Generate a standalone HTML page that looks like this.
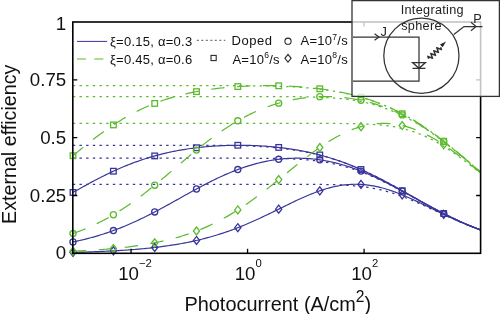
<!DOCTYPE html>
<html lang="en">
<head>
<meta charset="utf-8">
<title>External efficiency vs photocurrent</title>
<style>
html,body{margin:0;padding:0;background:#fff;}
body{width:500px;height:314px;overflow:hidden;font-family:"Liberation Sans",sans-serif;}
svg{display:block;}
text{font-family:"Liberation Sans",sans-serif;fill:#111;}
.tick text{font-size:18.7px;}
.lab{font-size:19.7px;}
.leg text{font-size:13px;letter-spacing:0.25px;}
.inset text{font-size:12.7px;fill:#222;letter-spacing:0.3px;}
</style>
</head>
<body>
<svg width="500" height="314" viewBox="0 0 500 314">
<rect x="0" y="0" width="500" height="314" fill="#fff"/>
<!-- curves -->
<g clip-path="url(#plotclip)">
<clipPath id="plotclip"><rect x="68.8" y="22.0" width="412.8" height="236.3"/></clipPath>
<path d="M72.80,145.28 L74.51,145.28 L76.21,145.28 L77.92,145.28 L79.63,145.28 L81.33,145.28 L83.04,145.28 L84.74,145.28 L86.45,145.28 L88.16,145.28 L89.86,145.28 L91.57,145.28 L93.28,145.28 L94.98,145.28 L96.69,145.28 L98.39,145.28 L100.10,145.28 L101.81,145.28 L103.51,145.28 L105.22,145.28 L106.93,145.28 L108.63,145.28 L110.34,145.28 L112.04,145.28 L113.75,145.28 L115.46,145.28 L117.16,145.28 L118.87,145.28 L120.58,145.28 L122.28,145.28 L123.99,145.28 L125.69,145.28 L127.40,145.28 L129.11,145.28 L130.81,145.28 L132.52,145.28 L134.23,145.28 L135.93,145.28 L137.64,145.28 L139.34,145.28 L141.05,145.28 L142.76,145.28 L144.46,145.28 L146.17,145.28 L147.88,145.28 L149.58,145.28 L151.29,145.28 L152.99,145.28 L154.70,145.28 L156.41,145.28 L158.11,145.28 L159.82,145.28 L161.53,145.28 L163.23,145.28 L164.94,145.28 L166.65,145.28 L168.35,145.28 L170.06,145.28 L171.76,145.28 L173.47,145.28 L175.18,145.28 L176.88,145.28 L178.59,145.28 L180.30,145.28 L182.00,145.28 L183.71,145.29 L185.41,145.29 L187.12,145.29 L188.83,145.29 L190.53,145.29 L192.24,145.29 L193.95,145.30 L195.65,145.30 L197.36,145.30 L199.06,145.31 L200.77,145.31 L202.48,145.31 L204.18,145.32 L205.89,145.32 L207.60,145.33 L209.30,145.34 L211.01,145.35 L212.71,145.35 L214.42,145.36 L216.13,145.37 L217.83,145.39 L219.54,145.40 L221.25,145.41 L222.95,145.43 L224.66,145.45 L226.36,145.47 L228.07,145.49 L229.78,145.51 L231.48,145.54 L233.19,145.57 L234.90,145.60 L236.60,145.63 L238.31,145.67 L240.02,145.71 L241.72,145.75 L243.43,145.80 L245.13,145.85 L246.84,145.91 L248.55,145.97 L250.25,146.03 L251.96,146.10 L253.67,146.18 L255.37,146.26 L257.08,146.34 L258.78,146.43 L260.49,146.53 L262.20,146.63 L263.90,146.74 L265.61,146.86 L267.32,146.98 L269.02,147.11 L270.73,147.25 L272.43,147.39 L274.14,147.55 L275.85,147.71 L277.55,147.88 L279.26,148.05 L280.97,148.24 L282.67,148.43 L284.38,148.64 L286.08,148.85 L287.79,149.07 L289.50,149.31 L291.20,149.55 L292.91,149.80 L294.62,150.06 L296.32,150.33 L298.03,150.62 L299.73,150.91 L301.44,151.21 L303.15,151.53 L304.85,151.86 L306.56,152.19 L308.27,152.54 L309.97,152.90 L311.68,153.28 L313.38,153.66 L315.09,154.06 L316.80,154.47 L318.50,154.89 L320.21,155.32 L321.92,155.77 L323.62,156.23 L325.33,156.70 L327.04,157.19 L328.74,157.68 L330.45,158.19 L332.15,158.72 L333.86,159.26 L335.57,159.81 L337.27,160.37 L338.98,160.95 L340.69,161.54 L342.39,162.14 L344.10,162.76 L345.80,163.39 L347.51,164.04 L349.22,164.69 L350.92,165.36 L352.63,166.05 L354.34,166.75 L356.04,167.46 L357.75,168.18 L359.45,168.91 L361.16,169.66 L362.87,170.42 L364.57,171.20 L366.28,171.98 L367.99,172.78 L369.69,173.58 L371.40,174.40 L373.10,175.23 L374.81,176.07 L376.52,176.92 L378.22,177.79 L379.93,178.66 L381.64,179.54 L383.34,180.42 L385.05,181.32 L386.75,182.23 L388.46,183.14 L390.17,184.06 L391.87,184.98 L393.58,185.92 L395.29,186.85 L396.99,187.80 L398.70,188.74 L400.41,189.70 L402.11,190.65 L403.82,191.61 L405.52,192.57 L407.23,193.53 L408.94,194.50 L410.64,195.46 L412.35,196.43 L414.06,197.39 L415.76,198.35 L417.47,199.32 L419.17,200.28 L420.88,201.23 L422.59,202.19 L424.29,203.14 L426.00,204.09 L427.71,205.03 L429.41,205.97 L431.12,206.90 L432.82,207.82 L434.53,208.74 L436.24,209.65 L437.94,210.56 L439.65,211.45 L441.36,212.34 L443.06,213.22 L444.77,214.09 L446.47,214.95 L448.18,215.80 L449.89,216.64 L451.59,217.48 L453.30,218.30 L455.01,219.10 L456.71,219.90 L458.42,220.69 L460.12,221.47 L461.83,222.23 L463.54,222.98 L465.24,223.72 L466.95,224.45 L468.66,225.16 L470.36,225.87 L472.07,226.56 L473.77,227.24 L475.48,227.90 L477.19,228.55 L478.89,229.19 L480.60,229.82" fill="none" stroke="#39359a" stroke-width="1.25" stroke-dasharray="2.4 4.27"/>
<path d="M72.80,158.18 L74.51,158.18 L76.21,158.18 L77.92,158.18 L79.63,158.18 L81.33,158.18 L83.04,158.18 L84.74,158.18 L86.45,158.18 L88.16,158.18 L89.86,158.18 L91.57,158.18 L93.28,158.18 L94.98,158.18 L96.69,158.18 L98.39,158.18 L100.10,158.18 L101.81,158.18 L103.51,158.18 L105.22,158.18 L106.93,158.18 L108.63,158.18 L110.34,158.18 L112.04,158.18 L113.75,158.18 L115.46,158.18 L117.16,158.18 L118.87,158.18 L120.58,158.18 L122.28,158.18 L123.99,158.18 L125.69,158.18 L127.40,158.18 L129.11,158.18 L130.81,158.18 L132.52,158.18 L134.23,158.18 L135.93,158.18 L137.64,158.18 L139.34,158.18 L141.05,158.18 L142.76,158.18 L144.46,158.18 L146.17,158.18 L147.88,158.18 L149.58,158.18 L151.29,158.18 L152.99,158.18 L154.70,158.18 L156.41,158.18 L158.11,158.18 L159.82,158.18 L161.53,158.18 L163.23,158.18 L164.94,158.18 L166.65,158.18 L168.35,158.18 L170.06,158.18 L171.76,158.18 L173.47,158.18 L175.18,158.18 L176.88,158.18 L178.59,158.18 L180.30,158.18 L182.00,158.18 L183.71,158.18 L185.41,158.18 L187.12,158.18 L188.83,158.18 L190.53,158.18 L192.24,158.18 L193.95,158.18 L195.65,158.18 L197.36,158.18 L199.06,158.18 L200.77,158.18 L202.48,158.18 L204.18,158.18 L205.89,158.18 L207.60,158.18 L209.30,158.18 L211.01,158.18 L212.71,158.18 L214.42,158.18 L216.13,158.18 L217.83,158.18 L219.54,158.18 L221.25,158.18 L222.95,158.18 L224.66,158.18 L226.36,158.19 L228.07,158.19 L229.78,158.19 L231.48,158.19 L233.19,158.19 L234.90,158.19 L236.60,158.19 L238.31,158.20 L240.02,158.20 L241.72,158.20 L243.43,158.20 L245.13,158.21 L246.84,158.21 L248.55,158.22 L250.25,158.22 L251.96,158.23 L253.67,158.23 L255.37,158.24 L257.08,158.25 L258.78,158.26 L260.49,158.27 L262.20,158.28 L263.90,158.29 L265.61,158.31 L267.32,158.33 L269.02,158.34 L270.73,158.37 L272.43,158.39 L274.14,158.41 L275.85,158.44 L277.55,158.47 L279.26,158.51 L280.97,158.55 L282.67,158.59 L284.38,158.64 L286.08,158.69 L287.79,158.75 L289.50,158.81 L291.20,158.88 L292.91,158.95 L294.62,159.03 L296.32,159.12 L298.03,159.22 L299.73,159.32 L301.44,159.44 L303.15,159.56 L304.85,159.69 L306.56,159.83 L308.27,159.98 L309.97,160.15 L311.68,160.32 L313.38,160.51 L315.09,160.71 L316.80,160.92 L318.50,161.15 L320.21,161.39 L321.92,161.64 L323.62,161.91 L325.33,162.20 L327.04,162.49 L328.74,162.81 L330.45,163.14 L332.15,163.49 L333.86,163.85 L335.57,164.23 L337.27,164.62 L338.98,165.04 L340.69,165.47 L342.39,165.91 L344.10,166.38 L345.80,166.86 L347.51,167.36 L349.22,167.87 L350.92,168.41 L352.63,168.96 L354.34,169.53 L356.04,170.11 L357.75,170.71 L359.45,171.33 L361.16,171.97 L362.87,172.62 L364.57,173.28 L366.28,173.97 L367.99,174.67 L369.69,175.38 L371.40,176.11 L373.10,176.85 L374.81,177.61 L376.52,178.38 L378.22,179.16 L379.93,179.96 L381.64,180.77 L383.34,181.59 L385.05,182.42 L386.75,183.27 L388.46,184.12 L390.17,184.98 L391.87,185.86 L393.58,186.74 L395.29,187.63 L396.99,188.52 L398.70,189.43 L400.41,190.34 L402.11,191.25 L403.82,192.18 L405.52,193.10 L407.23,194.03 L408.94,194.96 L410.64,195.90 L412.35,196.83 L414.06,197.77 L415.76,198.71 L417.47,199.65 L419.17,200.59 L420.88,201.52 L422.59,202.46 L424.29,203.39 L426.00,204.32 L427.71,205.25 L429.41,206.17 L431.12,207.09 L432.82,208.00 L434.53,208.90 L436.24,209.80 L437.94,210.70 L439.65,211.58 L441.36,212.46 L443.06,213.33 L444.77,214.19 L446.47,215.05 L448.18,215.89 L449.89,216.73 L451.59,217.55 L453.30,218.37 L455.01,219.17 L456.71,219.96 L458.42,220.74 L460.12,221.52 L461.83,222.28 L463.54,223.02 L465.24,223.76 L466.95,224.48 L468.66,225.20 L470.36,225.90 L472.07,226.59 L473.77,227.26 L475.48,227.92 L477.19,228.58 L478.89,229.21 L480.60,229.84" fill="none" stroke="#39359a" stroke-width="1.25" stroke-dasharray="2.4 4.27"/>
<path d="M72.80,184.26 L74.51,184.26 L76.21,184.26 L77.92,184.26 L79.63,184.26 L81.33,184.26 L83.04,184.26 L84.74,184.26 L86.45,184.26 L88.16,184.26 L89.86,184.26 L91.57,184.26 L93.28,184.26 L94.98,184.26 L96.69,184.26 L98.39,184.26 L100.10,184.26 L101.81,184.26 L103.51,184.26 L105.22,184.26 L106.93,184.26 L108.63,184.26 L110.34,184.26 L112.04,184.26 L113.75,184.26 L115.46,184.26 L117.16,184.26 L118.87,184.26 L120.58,184.26 L122.28,184.26 L123.99,184.26 L125.69,184.26 L127.40,184.26 L129.11,184.26 L130.81,184.26 L132.52,184.26 L134.23,184.26 L135.93,184.26 L137.64,184.26 L139.34,184.26 L141.05,184.26 L142.76,184.26 L144.46,184.26 L146.17,184.26 L147.88,184.26 L149.58,184.26 L151.29,184.26 L152.99,184.26 L154.70,184.26 L156.41,184.26 L158.11,184.26 L159.82,184.26 L161.53,184.26 L163.23,184.26 L164.94,184.26 L166.65,184.26 L168.35,184.26 L170.06,184.26 L171.76,184.26 L173.47,184.26 L175.18,184.26 L176.88,184.26 L178.59,184.26 L180.30,184.26 L182.00,184.26 L183.71,184.26 L185.41,184.26 L187.12,184.26 L188.83,184.26 L190.53,184.26 L192.24,184.26 L193.95,184.26 L195.65,184.26 L197.36,184.26 L199.06,184.26 L200.77,184.26 L202.48,184.26 L204.18,184.26 L205.89,184.26 L207.60,184.26 L209.30,184.26 L211.01,184.26 L212.71,184.26 L214.42,184.26 L216.13,184.26 L217.83,184.26 L219.54,184.26 L221.25,184.26 L222.95,184.26 L224.66,184.26 L226.36,184.26 L228.07,184.26 L229.78,184.26 L231.48,184.26 L233.19,184.26 L234.90,184.26 L236.60,184.26 L238.31,184.26 L240.02,184.26 L241.72,184.26 L243.43,184.26 L245.13,184.26 L246.84,184.26 L248.55,184.26 L250.25,184.26 L251.96,184.26 L253.67,184.26 L255.37,184.26 L257.08,184.26 L258.78,184.26 L260.49,184.26 L262.20,184.26 L263.90,184.26 L265.61,184.26 L267.32,184.26 L269.02,184.26 L270.73,184.26 L272.43,184.26 L274.14,184.26 L275.85,184.26 L277.55,184.26 L279.26,184.26 L280.97,184.27 L282.67,184.27 L284.38,184.27 L286.08,184.27 L287.79,184.27 L289.50,184.27 L291.20,184.28 L292.91,184.28 L294.62,184.28 L296.32,184.29 L298.03,184.29 L299.73,184.29 L301.44,184.30 L303.15,184.30 L304.85,184.31 L306.56,184.32 L308.27,184.33 L309.97,184.34 L311.68,184.35 L313.38,184.36 L315.09,184.37 L316.80,184.39 L318.50,184.40 L320.21,184.42 L321.92,184.45 L323.62,184.47 L325.33,184.50 L327.04,184.53 L328.74,184.56 L330.45,184.60 L332.15,184.64 L333.86,184.68 L335.57,184.74 L337.27,184.79 L338.98,184.86 L340.69,184.92 L342.39,185.00 L344.10,185.08 L345.80,185.18 L347.51,185.28 L349.22,185.39 L350.92,185.51 L352.63,185.64 L354.34,185.78 L356.04,185.93 L357.75,186.10 L359.45,186.28 L361.16,186.47 L362.87,186.68 L364.57,186.91 L366.28,187.14 L367.99,187.40 L369.69,187.67 L371.40,187.96 L373.10,188.27 L374.81,188.60 L376.52,188.94 L378.22,189.31 L379.93,189.69 L381.64,190.09 L383.34,190.52 L385.05,190.96 L386.75,191.42 L388.46,191.90 L390.17,192.40 L391.87,192.92 L393.58,193.45 L395.29,194.01 L396.99,194.58 L398.70,195.18 L400.41,195.78 L402.11,196.41 L403.82,197.05 L405.52,197.71 L407.23,198.38 L408.94,199.06 L410.64,199.76 L412.35,200.47 L414.06,201.19 L415.76,201.93 L417.47,202.67 L419.17,203.42 L420.88,204.18 L422.59,204.94 L424.29,205.72 L426.00,206.50 L427.71,207.28 L429.41,208.07 L431.12,208.86 L432.82,209.65 L434.53,210.44 L436.24,211.24 L437.94,212.03 L439.65,212.82 L441.36,213.61 L443.06,214.40 L444.77,215.19 L446.47,215.97 L448.18,216.74 L449.89,217.51 L451.59,218.28 L453.30,219.04 L455.01,219.79 L456.71,220.54 L458.42,221.28 L460.12,222.01 L461.83,222.73 L463.54,223.44 L465.24,224.14 L466.95,224.84 L468.66,225.52 L470.36,226.20 L472.07,226.86 L473.77,227.52 L475.48,228.16 L477.19,228.79 L478.89,229.41 L480.60,230.02" fill="none" stroke="#39359a" stroke-width="1.25" stroke-dasharray="2.4 4.27"/>
<path d="M72.80,85.64 L74.51,85.64 L76.21,85.64 L77.92,85.64 L79.63,85.64 L81.33,85.64 L83.04,85.64 L84.74,85.64 L86.45,85.64 L88.16,85.64 L89.86,85.64 L91.57,85.64 L93.28,85.64 L94.98,85.64 L96.69,85.64 L98.39,85.64 L100.10,85.64 L101.81,85.64 L103.51,85.64 L105.22,85.64 L106.93,85.64 L108.63,85.64 L110.34,85.64 L112.04,85.64 L113.75,85.64 L115.46,85.64 L117.16,85.64 L118.87,85.64 L120.58,85.64 L122.28,85.64 L123.99,85.64 L125.69,85.64 L127.40,85.64 L129.11,85.64 L130.81,85.64 L132.52,85.64 L134.23,85.64 L135.93,85.64 L137.64,85.64 L139.34,85.64 L141.05,85.64 L142.76,85.64 L144.46,85.64 L146.17,85.64 L147.88,85.64 L149.58,85.64 L151.29,85.64 L152.99,85.64 L154.70,85.64 L156.41,85.64 L158.11,85.64 L159.82,85.64 L161.53,85.64 L163.23,85.64 L164.94,85.64 L166.65,85.64 L168.35,85.64 L170.06,85.64 L171.76,85.64 L173.47,85.64 L175.18,85.64 L176.88,85.64 L178.59,85.64 L180.30,85.64 L182.00,85.64 L183.71,85.64 L185.41,85.64 L187.12,85.64 L188.83,85.64 L190.53,85.64 L192.24,85.64 L193.95,85.64 L195.65,85.64 L197.36,85.64 L199.06,85.64 L200.77,85.64 L202.48,85.64 L204.18,85.64 L205.89,85.64 L207.60,85.64 L209.30,85.65 L211.01,85.65 L212.71,85.65 L214.42,85.65 L216.13,85.65 L217.83,85.65 L219.54,85.65 L221.25,85.65 L222.95,85.66 L224.66,85.66 L226.36,85.66 L228.07,85.66 L229.78,85.67 L231.48,85.67 L233.19,85.68 L234.90,85.68 L236.60,85.69 L238.31,85.69 L240.02,85.70 L241.72,85.70 L243.43,85.71 L245.13,85.72 L246.84,85.73 L248.55,85.74 L250.25,85.75 L251.96,85.77 L253.67,85.78 L255.37,85.80 L257.08,85.82 L258.78,85.84 L260.49,85.86 L262.20,85.88 L263.90,85.91 L265.61,85.94 L267.32,85.97 L269.02,86.00 L270.73,86.04 L272.43,86.08 L274.14,86.12 L275.85,86.17 L277.55,86.22 L279.26,86.27 L280.97,86.33 L282.67,86.39 L284.38,86.46 L286.08,86.53 L287.79,86.60 L289.50,86.68 L291.20,86.77 L292.91,86.86 L294.62,86.96 L296.32,87.06 L298.03,87.17 L299.73,87.28 L301.44,87.41 L303.15,87.53 L304.85,87.67 L306.56,87.81 L308.27,87.96 L309.97,88.11 L311.68,88.28 L313.38,88.45 L315.09,88.63 L316.80,88.82 L318.50,89.01 L320.21,89.22 L321.92,89.43 L323.62,89.65 L325.33,89.89 L327.04,90.13 L328.74,90.38 L330.45,90.64 L332.15,90.91 L333.86,91.19 L335.57,91.49 L337.27,91.79 L338.98,92.10 L340.69,92.43 L342.39,92.77 L344.10,93.11 L345.80,93.48 L347.51,93.85 L349.22,94.23 L350.92,94.63 L352.63,95.04 L354.34,95.47 L356.04,95.91 L357.75,96.36 L359.45,96.83 L361.16,97.31 L362.87,97.80 L364.57,98.31 L366.28,98.84 L367.99,99.38 L369.69,99.93 L371.40,100.50 L373.10,101.09 L374.81,101.70 L376.52,102.32 L378.22,102.95 L379.93,103.61 L381.64,104.28 L383.34,104.97 L385.05,105.68 L386.75,106.40 L388.46,107.14 L390.17,107.91 L391.87,108.68 L393.58,109.48 L395.29,110.30 L396.99,111.14 L398.70,111.99 L400.41,112.86 L402.11,113.76 L403.82,114.67 L405.52,115.60 L407.23,116.55 L408.94,117.52 L410.64,118.51 L412.35,119.52 L414.06,120.54 L415.76,121.59 L417.47,122.65 L419.17,123.74 L420.88,124.84 L422.59,125.96 L424.29,127.10 L426.00,128.26 L427.71,129.44 L429.41,130.63 L431.12,131.84 L432.82,133.07 L434.53,134.31 L436.24,135.57 L437.94,136.84 L439.65,138.13 L441.36,139.44 L443.06,140.76 L444.77,142.09 L446.47,143.43 L448.18,144.79 L449.89,146.16 L451.59,147.54 L453.30,148.93 L455.01,150.33 L456.71,151.74 L458.42,153.16 L460.12,154.59 L461.83,156.02 L463.54,157.46 L465.24,158.90 L466.95,160.35 L468.66,161.80 L470.36,163.26 L472.07,164.72 L473.77,166.17 L475.48,167.63 L477.19,169.09 L478.89,170.55 L480.60,172.00" fill="none" stroke="#5abb2d" stroke-width="1.25" stroke-dasharray="2.4 4.27"/>
<path d="M72.80,96.58 L74.51,96.58 L76.21,96.58 L77.92,96.58 L79.63,96.58 L81.33,96.58 L83.04,96.58 L84.74,96.58 L86.45,96.58 L88.16,96.58 L89.86,96.58 L91.57,96.58 L93.28,96.58 L94.98,96.58 L96.69,96.58 L98.39,96.58 L100.10,96.58 L101.81,96.58 L103.51,96.58 L105.22,96.58 L106.93,96.58 L108.63,96.58 L110.34,96.58 L112.04,96.58 L113.75,96.58 L115.46,96.58 L117.16,96.58 L118.87,96.58 L120.58,96.58 L122.28,96.58 L123.99,96.58 L125.69,96.58 L127.40,96.58 L129.11,96.58 L130.81,96.58 L132.52,96.58 L134.23,96.58 L135.93,96.58 L137.64,96.58 L139.34,96.58 L141.05,96.58 L142.76,96.58 L144.46,96.58 L146.17,96.58 L147.88,96.58 L149.58,96.58 L151.29,96.58 L152.99,96.58 L154.70,96.58 L156.41,96.58 L158.11,96.58 L159.82,96.58 L161.53,96.58 L163.23,96.58 L164.94,96.58 L166.65,96.58 L168.35,96.58 L170.06,96.58 L171.76,96.58 L173.47,96.58 L175.18,96.58 L176.88,96.58 L178.59,96.58 L180.30,96.58 L182.00,96.58 L183.71,96.58 L185.41,96.58 L187.12,96.58 L188.83,96.58 L190.53,96.58 L192.24,96.58 L193.95,96.58 L195.65,96.58 L197.36,96.58 L199.06,96.58 L200.77,96.58 L202.48,96.58 L204.18,96.58 L205.89,96.58 L207.60,96.58 L209.30,96.58 L211.01,96.58 L212.71,96.58 L214.42,96.58 L216.13,96.58 L217.83,96.58 L219.54,96.58 L221.25,96.58 L222.95,96.58 L224.66,96.58 L226.36,96.58 L228.07,96.58 L229.78,96.58 L231.48,96.58 L233.19,96.58 L234.90,96.58 L236.60,96.58 L238.31,96.58 L240.02,96.58 L241.72,96.58 L243.43,96.58 L245.13,96.58 L246.84,96.58 L248.55,96.58 L250.25,96.58 L251.96,96.58 L253.67,96.59 L255.37,96.59 L257.08,96.59 L258.78,96.59 L260.49,96.59 L262.20,96.59 L263.90,96.59 L265.61,96.59 L267.32,96.60 L269.02,96.60 L270.73,96.60 L272.43,96.60 L274.14,96.61 L275.85,96.61 L277.55,96.62 L279.26,96.62 L280.97,96.63 L282.67,96.63 L284.38,96.64 L286.08,96.65 L287.79,96.66 L289.50,96.67 L291.20,96.68 L292.91,96.69 L294.62,96.70 L296.32,96.72 L298.03,96.74 L299.73,96.76 L301.44,96.78 L303.15,96.80 L304.85,96.83 L306.56,96.86 L308.27,96.89 L309.97,96.93 L311.68,96.97 L313.38,97.02 L315.09,97.06 L316.80,97.12 L318.50,97.18 L320.21,97.24 L321.92,97.31 L323.62,97.39 L325.33,97.47 L327.04,97.56 L328.74,97.66 L330.45,97.77 L332.15,97.89 L333.86,98.01 L335.57,98.15 L337.27,98.29 L338.98,98.45 L340.69,98.61 L342.39,98.79 L344.10,98.98 L345.80,99.18 L347.51,99.40 L349.22,99.63 L350.92,99.87 L352.63,100.13 L354.34,100.40 L356.04,100.69 L357.75,100.99 L359.45,101.31 L361.16,101.65 L362.87,102.00 L364.57,102.37 L366.28,102.76 L367.99,103.17 L369.69,103.59 L371.40,104.03 L373.10,104.49 L374.81,104.98 L376.52,105.48 L378.22,106.00 L379.93,106.54 L381.64,107.10 L383.34,107.68 L385.05,108.28 L386.75,108.90 L388.46,109.54 L390.17,110.21 L391.87,110.89 L393.58,111.60 L395.29,112.33 L396.99,113.08 L398.70,113.85 L400.41,114.64 L402.11,115.46 L403.82,116.29 L405.52,117.15 L407.23,118.03 L408.94,118.94 L410.64,119.86 L412.35,120.81 L414.06,121.77 L415.76,122.76 L417.47,123.77 L419.17,124.80 L420.88,125.85 L422.59,126.92 L424.29,128.02 L426.00,129.13 L427.71,130.26 L429.41,131.41 L431.12,132.58 L432.82,133.77 L434.53,134.98 L436.24,136.20 L437.94,137.44 L439.65,138.70 L441.36,139.97 L443.06,141.26 L444.77,142.57 L446.47,143.88 L448.18,145.22 L449.89,146.56 L451.59,147.92 L453.30,149.29 L455.01,150.67 L456.71,152.06 L458.42,153.46 L460.12,154.87 L461.83,156.28 L463.54,157.71 L465.24,159.13 L466.95,160.57 L468.66,162.01 L470.36,163.45 L472.07,164.89 L473.77,166.34 L475.48,167.79 L477.19,169.24 L478.89,170.68 L480.60,172.13" fill="none" stroke="#5abb2d" stroke-width="1.25" stroke-dasharray="2.4 4.27"/>
<path d="M72.80,123.39 L74.51,123.39 L76.21,123.39 L77.92,123.39 L79.63,123.39 L81.33,123.39 L83.04,123.39 L84.74,123.39 L86.45,123.39 L88.16,123.39 L89.86,123.39 L91.57,123.39 L93.28,123.39 L94.98,123.39 L96.69,123.39 L98.39,123.39 L100.10,123.39 L101.81,123.39 L103.51,123.39 L105.22,123.39 L106.93,123.39 L108.63,123.39 L110.34,123.39 L112.04,123.39 L113.75,123.39 L115.46,123.39 L117.16,123.39 L118.87,123.39 L120.58,123.39 L122.28,123.39 L123.99,123.39 L125.69,123.39 L127.40,123.39 L129.11,123.39 L130.81,123.39 L132.52,123.39 L134.23,123.39 L135.93,123.39 L137.64,123.39 L139.34,123.39 L141.05,123.39 L142.76,123.39 L144.46,123.39 L146.17,123.39 L147.88,123.39 L149.58,123.39 L151.29,123.39 L152.99,123.39 L154.70,123.39 L156.41,123.39 L158.11,123.39 L159.82,123.39 L161.53,123.39 L163.23,123.39 L164.94,123.39 L166.65,123.39 L168.35,123.39 L170.06,123.39 L171.76,123.39 L173.47,123.39 L175.18,123.39 L176.88,123.39 L178.59,123.39 L180.30,123.39 L182.00,123.39 L183.71,123.39 L185.41,123.39 L187.12,123.39 L188.83,123.39 L190.53,123.39 L192.24,123.39 L193.95,123.39 L195.65,123.39 L197.36,123.39 L199.06,123.39 L200.77,123.39 L202.48,123.39 L204.18,123.39 L205.89,123.39 L207.60,123.39 L209.30,123.39 L211.01,123.39 L212.71,123.39 L214.42,123.39 L216.13,123.39 L217.83,123.39 L219.54,123.39 L221.25,123.39 L222.95,123.39 L224.66,123.39 L226.36,123.39 L228.07,123.39 L229.78,123.39 L231.48,123.39 L233.19,123.39 L234.90,123.39 L236.60,123.39 L238.31,123.39 L240.02,123.39 L241.72,123.39 L243.43,123.39 L245.13,123.39 L246.84,123.39 L248.55,123.39 L250.25,123.39 L251.96,123.39 L253.67,123.39 L255.37,123.39 L257.08,123.39 L258.78,123.39 L260.49,123.39 L262.20,123.39 L263.90,123.39 L265.61,123.39 L267.32,123.39 L269.02,123.39 L270.73,123.39 L272.43,123.39 L274.14,123.39 L275.85,123.39 L277.55,123.39 L279.26,123.39 L280.97,123.39 L282.67,123.39 L284.38,123.39 L286.08,123.39 L287.79,123.39 L289.50,123.39 L291.20,123.39 L292.91,123.39 L294.62,123.39 L296.32,123.39 L298.03,123.39 L299.73,123.39 L301.44,123.39 L303.15,123.39 L304.85,123.39 L306.56,123.40 L308.27,123.40 L309.97,123.40 L311.68,123.40 L313.38,123.40 L315.09,123.40 L316.80,123.41 L318.50,123.41 L320.21,123.41 L321.92,123.41 L323.62,123.42 L325.33,123.42 L327.04,123.43 L328.74,123.43 L330.45,123.44 L332.15,123.45 L333.86,123.46 L335.57,123.46 L337.27,123.48 L338.98,123.49 L340.69,123.50 L342.39,123.52 L344.10,123.53 L345.80,123.55 L347.51,123.57 L349.22,123.60 L350.92,123.62 L352.63,123.65 L354.34,123.69 L356.04,123.72 L357.75,123.77 L359.45,123.81 L361.16,123.86 L362.87,123.92 L364.57,123.99 L366.28,124.06 L367.99,124.13 L369.69,124.22 L371.40,124.32 L373.10,124.42 L374.81,124.53 L376.52,124.66 L378.22,124.80 L379.93,124.95 L381.64,125.11 L383.34,125.29 L385.05,125.48 L386.75,125.69 L388.46,125.91 L390.17,126.15 L391.87,126.41 L393.58,126.70 L395.29,127.00 L396.99,127.32 L398.70,127.66 L400.41,128.03 L402.11,128.42 L403.82,128.84 L405.52,129.28 L407.23,129.74 L408.94,130.23 L410.64,130.75 L412.35,131.30 L414.06,131.87 L415.76,132.47 L417.47,133.10 L419.17,133.76 L420.88,134.44 L422.59,135.16 L424.29,135.90 L426.00,136.67 L427.71,137.47 L429.41,138.30 L431.12,139.16 L432.82,140.04 L434.53,140.95 L436.24,141.89 L437.94,142.85 L439.65,143.85 L441.36,144.86 L443.06,145.90 L444.77,146.97 L446.47,148.06 L448.18,149.17 L449.89,150.30 L451.59,151.46 L453.30,152.63 L455.01,153.83 L456.71,155.04 L458.42,156.27 L460.12,157.52 L461.83,158.78 L463.54,160.05 L465.24,161.34 L466.95,162.64 L468.66,163.96 L470.36,165.28 L472.07,166.61 L473.77,167.95 L475.48,169.29 L477.19,170.64 L478.89,172.00 L480.60,173.36" fill="none" stroke="#5abb2d" stroke-width="1.25" stroke-dasharray="2.4 4.27"/>
<path d="M72.80,192.57 L74.51,191.60 L76.21,190.64 L77.92,189.67 L79.63,188.71 L81.33,187.76 L83.04,186.81 L84.74,185.87 L86.45,184.93 L88.16,183.99 L89.86,183.07 L91.57,182.15 L93.28,181.24 L94.98,180.34 L96.69,179.44 L98.39,178.56 L100.10,177.68 L101.81,176.81 L103.51,175.96 L105.22,175.11 L106.93,174.28 L108.63,173.45 L110.34,172.64 L112.04,171.84 L113.75,171.05 L115.46,170.27 L117.16,169.50 L118.87,168.75 L120.58,168.01 L122.28,167.28 L123.99,166.56 L125.69,165.86 L127.40,165.17 L129.11,164.49 L130.81,163.83 L132.52,163.18 L134.23,162.54 L135.93,161.92 L137.64,161.31 L139.34,160.71 L141.05,160.13 L142.76,159.55 L144.46,159.00 L146.17,158.45 L147.88,157.92 L149.58,157.40 L151.29,156.89 L152.99,156.40 L154.70,155.92 L156.41,155.45 L158.11,155.00 L159.82,154.55 L161.53,154.12 L163.23,153.70 L164.94,153.30 L166.65,152.90 L168.35,152.52 L170.06,152.14 L171.76,151.78 L173.47,151.44 L175.18,151.10 L176.88,150.77 L178.59,150.45 L180.30,150.15 L182.00,149.85 L183.71,149.57 L185.41,149.30 L187.12,149.03 L188.83,148.78 L190.53,148.53 L192.24,148.30 L193.95,148.07 L195.65,147.86 L197.36,147.65 L199.06,147.46 L200.77,147.27 L202.48,147.09 L204.18,146.92 L205.89,146.76 L207.60,146.61 L209.30,146.47 L211.01,146.33 L212.71,146.21 L214.42,146.09 L216.13,145.98 L217.83,145.88 L219.54,145.78 L221.25,145.70 L222.95,145.62 L224.66,145.55 L226.36,145.49 L228.07,145.44 L229.78,145.39 L231.48,145.35 L233.19,145.32 L234.90,145.30 L236.60,145.28 L238.31,145.28 L240.02,145.28 L241.72,145.29 L243.43,145.30 L245.13,145.33 L246.84,145.36 L248.55,145.40 L250.25,145.44 L251.96,145.50 L253.67,145.56 L255.37,145.63 L257.08,145.71 L258.78,145.80 L260.49,145.89 L262.20,145.99 L263.90,146.10 L265.61,146.22 L267.32,146.35 L269.02,146.49 L270.73,146.63 L272.43,146.79 L274.14,146.95 L275.85,147.12 L277.55,147.30 L279.26,147.49 L280.97,147.68 L282.67,147.89 L284.38,148.11 L286.08,148.33 L287.79,148.57 L289.50,148.81 L291.20,149.07 L292.91,149.33 L294.62,149.61 L296.32,149.90 L298.03,150.19 L299.73,150.50 L301.44,150.82 L303.15,151.14 L304.85,151.48 L306.56,151.83 L308.27,152.20 L309.97,152.57 L311.68,152.95 L313.38,153.35 L315.09,153.76 L316.80,154.18 L318.50,154.61 L320.21,155.06 L321.92,155.51 L323.62,155.98 L325.33,156.46 L327.04,156.96 L328.74,157.47 L330.45,157.99 L332.15,158.52 L333.86,159.06 L335.57,159.62 L337.27,160.20 L338.98,160.78 L340.69,161.38 L342.39,161.99 L344.10,162.61 L345.80,163.25 L347.51,163.90 L349.22,164.57 L350.92,165.24 L352.63,165.93 L354.34,166.64 L356.04,167.35 L357.75,168.08 L359.45,168.82 L361.16,169.57 L362.87,170.34 L364.57,171.11 L366.28,171.90 L367.99,172.70 L369.69,173.51 L371.40,174.34 L373.10,175.17 L374.81,176.01 L376.52,176.87 L378.22,177.73 L379.93,178.61 L381.64,179.49 L383.34,180.38 L385.05,181.28 L386.75,182.19 L388.46,183.10 L390.17,184.02 L391.87,184.95 L393.58,185.88 L395.29,186.82 L396.99,187.77 L398.70,188.72 L400.41,189.67 L402.11,190.63 L403.82,191.59 L405.52,192.55 L407.23,193.51 L408.94,194.48 L410.64,195.44 L412.35,196.41 L414.06,197.38 L415.76,198.34 L417.47,199.30 L419.17,200.27 L420.88,201.22 L422.59,202.18 L424.29,203.13 L426.00,204.08 L427.71,205.02 L429.41,205.96 L431.12,206.89 L432.82,207.82 L434.53,208.74 L436.24,209.65 L437.94,210.55 L439.65,211.45 L441.36,212.34 L443.06,213.22 L444.77,214.09 L446.47,214.95 L448.18,215.80 L449.89,216.64 L451.59,217.47 L453.30,218.29 L455.01,219.10 L456.71,219.90 L458.42,220.69 L460.12,221.46 L461.83,222.23 L463.54,222.98 L465.24,223.72 L466.95,224.45 L468.66,225.16 L470.36,225.87 L472.07,226.56 L473.77,227.23 L475.48,227.90 L477.19,228.55 L478.89,229.19 L480.60,229.82" fill="none" stroke="#39359a" stroke-width="1.2"/>
<path d="M72.80,242.03 L74.51,241.67 L76.21,241.30 L77.92,240.93 L79.63,240.54 L81.33,240.14 L83.04,239.73 L84.74,239.31 L86.45,238.88 L88.16,238.44 L89.86,237.99 L91.57,237.52 L93.28,237.05 L94.98,236.56 L96.69,236.07 L98.39,235.56 L100.10,235.04 L101.81,234.50 L103.51,233.96 L105.22,233.40 L106.93,232.83 L108.63,232.25 L110.34,231.65 L112.04,231.04 L113.75,230.42 L115.46,229.79 L117.16,229.15 L118.87,228.49 L120.58,227.82 L122.28,227.14 L123.99,226.44 L125.69,225.73 L127.40,225.01 L129.11,224.28 L130.81,223.54 L132.52,222.78 L134.23,222.01 L135.93,221.24 L137.64,220.44 L139.34,219.64 L141.05,218.83 L142.76,218.01 L144.46,217.17 L146.17,216.33 L147.88,215.48 L149.58,214.61 L151.29,213.74 L152.99,212.86 L154.70,211.97 L156.41,211.07 L158.11,210.17 L159.82,209.26 L161.53,208.34 L163.23,207.41 L164.94,206.49 L166.65,205.55 L168.35,204.61 L170.06,203.67 L171.76,202.72 L173.47,201.77 L175.18,200.82 L176.88,199.87 L178.59,198.91 L180.30,197.96 L182.00,197.00 L183.71,196.05 L185.41,195.10 L187.12,194.15 L188.83,193.20 L190.53,192.25 L192.24,191.31 L193.95,190.37 L195.65,189.44 L197.36,188.52 L199.06,187.60 L200.77,186.68 L202.48,185.78 L204.18,184.88 L205.89,183.99 L207.60,183.11 L209.30,182.24 L211.01,181.38 L212.71,180.53 L214.42,179.69 L216.13,178.86 L217.83,178.05 L219.54,177.24 L221.25,176.45 L222.95,175.68 L224.66,174.91 L226.36,174.17 L228.07,173.43 L229.78,172.71 L231.48,172.01 L233.19,171.32 L234.90,170.64 L236.60,169.98 L238.31,169.34 L240.02,168.72 L241.72,168.11 L243.43,167.52 L245.13,166.94 L246.84,166.39 L248.55,165.85 L250.25,165.32 L251.96,164.82 L253.67,164.33 L255.37,163.86 L257.08,163.41 L258.78,162.98 L260.49,162.57 L262.20,162.17 L263.90,161.79 L265.61,161.43 L267.32,161.09 L269.02,160.77 L270.73,160.47 L272.43,160.19 L274.14,159.92 L275.85,159.67 L277.55,159.44 L279.26,159.24 L280.97,159.05 L282.67,158.87 L284.38,158.72 L286.08,158.59 L287.79,158.47 L289.50,158.38 L291.20,158.30 L292.91,158.24 L294.62,158.20 L296.32,158.18 L298.03,158.18 L299.73,158.20 L301.44,158.23 L303.15,158.29 L304.85,158.36 L306.56,158.46 L308.27,158.57 L309.97,158.70 L311.68,158.85 L313.38,159.02 L315.09,159.20 L316.80,159.41 L318.50,159.63 L320.21,159.88 L321.92,160.14 L323.62,160.42 L325.33,160.72 L327.04,161.04 L328.74,161.38 L330.45,161.73 L332.15,162.10 L333.86,162.50 L335.57,162.91 L337.27,163.34 L338.98,163.78 L340.69,164.25 L342.39,164.73 L344.10,165.23 L345.80,165.75 L347.51,166.28 L349.22,166.84 L350.92,167.41 L352.63,168.00 L354.34,168.60 L356.04,169.22 L357.75,169.86 L359.45,170.51 L361.16,171.18 L362.87,171.86 L364.57,172.56 L366.28,173.28 L367.99,174.01 L369.69,174.75 L371.40,175.51 L373.10,176.28 L374.81,177.07 L376.52,177.86 L378.22,178.67 L379.93,179.50 L381.64,180.33 L383.34,181.17 L385.05,182.03 L386.75,182.89 L388.46,183.77 L390.17,184.65 L391.87,185.54 L393.58,186.44 L395.29,187.35 L396.99,188.26 L398.70,189.18 L400.41,190.10 L402.11,191.03 L403.82,191.97 L405.52,192.91 L407.23,193.85 L408.94,194.79 L410.64,195.74 L412.35,196.68 L414.06,197.63 L415.76,198.58 L417.47,199.53 L419.17,200.47 L420.88,201.42 L422.59,202.36 L424.29,203.30 L426.00,204.23 L427.71,205.17 L429.41,206.09 L431.12,207.02 L432.82,207.93 L434.53,208.84 L436.24,209.75 L437.94,210.65 L439.65,211.54 L441.36,212.42 L443.06,213.29 L444.77,214.16 L446.47,215.01 L448.18,215.86 L449.89,216.70 L451.59,217.52 L453.30,218.34 L455.01,219.15 L456.71,219.94 L458.42,220.72 L460.12,221.50 L461.83,222.26 L463.54,223.01 L465.24,223.75 L466.95,224.47 L468.66,225.18 L470.36,225.89 L472.07,226.57 L473.77,227.25 L475.48,227.92 L477.19,228.57 L478.89,229.21 L480.60,229.83" fill="none" stroke="#39359a" stroke-width="1.2"/>
<path d="M72.80,252.37 L74.51,252.32 L76.21,252.28 L77.92,252.24 L79.63,252.19 L81.33,252.14 L83.04,252.09 L84.74,252.04 L86.45,251.99 L88.16,251.93 L89.86,251.88 L91.57,251.82 L93.28,251.76 L94.98,251.69 L96.69,251.63 L98.39,251.56 L100.10,251.49 L101.81,251.42 L103.51,251.34 L105.22,251.27 L106.93,251.19 L108.63,251.10 L110.34,251.02 L112.04,250.93 L113.75,250.84 L115.46,250.74 L117.16,250.65 L118.87,250.55 L120.58,250.44 L122.28,250.34 L123.99,250.23 L125.69,250.11 L127.40,249.99 L129.11,249.87 L130.81,249.75 L132.52,249.62 L134.23,249.48 L135.93,249.34 L137.64,249.20 L139.34,249.05 L141.05,248.90 L142.76,248.74 L144.46,248.58 L146.17,248.42 L147.88,248.24 L149.58,248.07 L151.29,247.88 L152.99,247.69 L154.70,247.50 L156.41,247.30 L158.11,247.09 L159.82,246.88 L161.53,246.66 L163.23,246.44 L164.94,246.20 L166.65,245.96 L168.35,245.72 L170.06,245.46 L171.76,245.20 L173.47,244.93 L175.18,244.66 L176.88,244.37 L178.59,244.08 L180.30,243.78 L182.00,243.47 L183.71,243.15 L185.41,242.82 L187.12,242.49 L188.83,242.14 L190.53,241.79 L192.24,241.42 L193.95,241.05 L195.65,240.67 L197.36,240.27 L199.06,239.87 L200.77,239.46 L202.48,239.03 L204.18,238.60 L205.89,238.15 L207.60,237.69 L209.30,237.22 L211.01,236.75 L212.71,236.26 L214.42,235.75 L216.13,235.24 L217.83,234.71 L219.54,234.18 L221.25,233.63 L222.95,233.07 L224.66,232.50 L226.36,231.92 L228.07,231.32 L229.78,230.71 L231.48,230.09 L233.19,229.46 L234.90,228.82 L236.60,228.17 L238.31,227.50 L240.02,226.83 L241.72,226.14 L243.43,225.44 L245.13,224.73 L246.84,224.02 L248.55,223.29 L250.25,222.55 L251.96,221.80 L253.67,221.04 L255.37,220.27 L257.08,219.50 L258.78,218.71 L260.49,217.92 L262.20,217.12 L263.90,216.31 L265.61,215.50 L267.32,214.68 L269.02,213.86 L270.73,213.03 L272.43,212.20 L274.14,211.37 L275.85,210.53 L277.55,209.69 L279.26,208.85 L280.97,208.01 L282.67,207.17 L284.38,206.34 L286.08,205.50 L287.79,204.67 L289.50,203.84 L291.20,203.02 L292.91,202.20 L294.62,201.39 L296.32,200.58 L298.03,199.79 L299.73,199.00 L301.44,198.23 L303.15,197.47 L304.85,196.72 L306.56,195.98 L308.27,195.26 L309.97,194.55 L311.68,193.86 L313.38,193.19 L315.09,192.53 L316.80,191.89 L318.50,191.28 L320.21,190.68 L321.92,190.11 L323.62,189.56 L325.33,189.03 L327.04,188.53 L328.74,188.05 L330.45,187.60 L332.15,187.17 L333.86,186.77 L335.57,186.40 L337.27,186.06 L338.98,185.74 L340.69,185.46 L342.39,185.20 L344.10,184.97 L345.80,184.78 L347.51,184.61 L349.22,184.48 L350.92,184.38 L352.63,184.31 L354.34,184.27 L356.04,184.26 L357.75,184.28 L359.45,184.33 L361.16,184.42 L362.87,184.54 L364.57,184.69 L366.28,184.86 L367.99,185.07 L369.69,185.31 L371.40,185.58 L373.10,185.88 L374.81,186.21 L376.52,186.56 L378.22,186.94 L379.93,187.36 L381.64,187.79 L383.34,188.25 L385.05,188.74 L386.75,189.25 L388.46,189.79 L390.17,190.35 L391.87,190.93 L393.58,191.53 L395.29,192.15 L396.99,192.80 L398.70,193.45 L400.41,194.13 L402.11,194.83 L403.82,195.54 L405.52,196.26 L407.23,197.00 L408.94,197.75 L410.64,198.51 L412.35,199.29 L414.06,200.07 L415.76,200.86 L417.47,201.66 L419.17,202.47 L420.88,203.28 L422.59,204.10 L424.29,204.92 L426.00,205.75 L427.71,206.58 L429.41,207.41 L431.12,208.24 L432.82,209.07 L434.53,209.90 L436.24,210.73 L437.94,211.56 L439.65,212.38 L441.36,213.20 L443.06,214.02 L444.77,214.83 L446.47,215.64 L448.18,216.44 L449.89,217.23 L451.59,218.02 L453.30,218.80 L455.01,219.57 L456.71,220.33 L458.42,221.08 L460.12,221.83 L461.83,222.56 L463.54,223.29 L465.24,224.00 L466.95,224.71 L468.66,225.40 L470.36,226.09 L472.07,226.76 L473.77,227.42 L475.48,228.07 L477.19,228.71 L478.89,229.34 L480.60,229.96" fill="none" stroke="#39359a" stroke-width="1.2"/>
<path d="M72.80,155.88 L74.51,154.44 L76.21,153.02 L77.92,151.60 L79.63,150.19 L81.33,148.78 L83.04,147.39 L84.74,146.01 L86.45,144.64 L88.16,143.28 L89.86,141.94 L91.57,140.60 L93.28,139.29 L94.98,137.98 L96.69,136.69 L98.39,135.41 L100.10,134.16 L101.81,132.91 L103.51,131.68 L105.22,130.47 L106.93,129.28 L108.63,128.11 L110.34,126.95 L112.04,125.81 L113.75,124.69 L115.46,123.58 L117.16,122.50 L118.87,121.43 L120.58,120.39 L122.28,119.36 L123.99,118.35 L125.69,117.36 L127.40,116.39 L129.11,115.44 L130.81,114.51 L132.52,113.59 L134.23,112.70 L135.93,111.82 L137.64,110.97 L139.34,110.13 L141.05,109.31 L142.76,108.51 L144.46,107.73 L146.17,106.97 L147.88,106.22 L149.58,105.50 L151.29,104.79 L152.99,104.09 L154.70,103.42 L156.41,102.76 L158.11,102.12 L159.82,101.50 L161.53,100.89 L163.23,100.30 L164.94,99.72 L166.65,99.16 L168.35,98.62 L170.06,98.09 L171.76,97.57 L173.47,97.07 L175.18,96.59 L176.88,96.12 L178.59,95.66 L180.30,95.21 L182.00,94.78 L183.71,94.36 L185.41,93.96 L187.12,93.57 L188.83,93.19 L190.53,92.82 L192.24,92.46 L193.95,92.12 L195.65,91.78 L197.36,91.46 L199.06,91.15 L200.77,90.85 L202.48,90.56 L204.18,90.28 L205.89,90.01 L207.60,89.75 L209.30,89.50 L211.01,89.26 L212.71,89.02 L214.42,88.80 L216.13,88.59 L217.83,88.38 L219.54,88.19 L221.25,88.00 L222.95,87.82 L224.66,87.64 L226.36,87.48 L228.07,87.32 L229.78,87.18 L231.48,87.03 L233.19,86.90 L234.90,86.77 L236.60,86.65 L238.31,86.54 L240.02,86.44 L241.72,86.34 L243.43,86.25 L245.13,86.16 L246.84,86.08 L248.55,86.01 L250.25,85.95 L251.96,85.89 L253.67,85.83 L255.37,85.79 L257.08,85.75 L258.78,85.71 L260.49,85.69 L262.20,85.67 L263.90,85.65 L265.61,85.64 L267.32,85.64 L269.02,85.64 L270.73,85.65 L272.43,85.67 L274.14,85.69 L275.85,85.72 L277.55,85.75 L279.26,85.79 L280.97,85.84 L282.67,85.89 L284.38,85.95 L286.08,86.02 L287.79,86.09 L289.50,86.17 L291.20,86.26 L292.91,86.35 L294.62,86.45 L296.32,86.55 L298.03,86.67 L299.73,86.79 L301.44,86.92 L303.15,87.05 L304.85,87.19 L306.56,87.34 L308.27,87.50 L309.97,87.66 L311.68,87.84 L313.38,88.02 L315.09,88.21 L316.80,88.41 L318.50,88.61 L320.21,88.83 L321.92,89.05 L323.62,89.28 L325.33,89.53 L327.04,89.78 L328.74,90.04 L330.45,90.31 L332.15,90.59 L333.86,90.88 L335.57,91.18 L337.27,91.50 L338.98,91.82 L340.69,92.16 L342.39,92.50 L344.10,92.86 L345.80,93.23 L347.51,93.61 L349.22,94.00 L350.92,94.41 L352.63,94.83 L354.34,95.26 L356.04,95.71 L357.75,96.17 L359.45,96.64 L361.16,97.13 L362.87,97.63 L364.57,98.15 L366.28,98.68 L367.99,99.22 L369.69,99.79 L371.40,100.36 L373.10,100.96 L374.81,101.57 L376.52,102.19 L378.22,102.83 L379.93,103.49 L381.64,104.17 L383.34,104.86 L385.05,105.58 L386.75,106.30 L388.46,107.05 L390.17,107.82 L391.87,108.60 L393.58,109.40 L395.29,110.22 L396.99,111.06 L398.70,111.92 L400.41,112.80 L402.11,113.69 L403.82,114.61 L405.52,115.54 L407.23,116.49 L408.94,117.47 L410.64,118.46 L412.35,119.47 L414.06,120.50 L415.76,121.55 L417.47,122.61 L419.17,123.70 L420.88,124.80 L422.59,125.93 L424.29,127.07 L426.00,128.23 L427.71,129.40 L429.41,130.60 L431.12,131.81 L432.82,133.04 L434.53,134.28 L436.24,135.54 L437.94,136.82 L439.65,138.11 L441.36,139.42 L443.06,140.74 L444.77,142.07 L446.47,143.42 L448.18,144.78 L449.89,146.15 L451.59,147.53 L453.30,148.92 L455.01,150.32 L456.71,151.73 L458.42,153.15 L460.12,154.58 L461.83,156.01 L463.54,157.45 L465.24,158.90 L466.95,160.34 L468.66,161.80 L470.36,163.25 L472.07,164.71 L473.77,166.17 L475.48,167.63 L477.19,169.09 L478.89,170.54 L480.60,172.00" fill="none" stroke="#5abb2d" stroke-width="1.2" stroke-dasharray="13.5 12.5"/>
<path d="M72.80,233.63 L74.51,233.03 L76.21,232.42 L77.92,231.79 L79.63,231.14 L81.33,230.48 L83.04,229.80 L84.74,229.11 L86.45,228.39 L88.16,227.66 L89.86,226.92 L91.57,226.15 L93.28,225.37 L94.98,224.57 L96.69,223.75 L98.39,222.91 L100.10,222.06 L101.81,221.18 L103.51,220.29 L105.22,219.38 L106.93,218.45 L108.63,217.50 L110.34,216.53 L112.04,215.54 L113.75,214.53 L115.46,213.51 L117.16,212.46 L118.87,211.40 L120.58,210.32 L122.28,209.22 L123.99,208.10 L125.69,206.96 L127.40,205.81 L129.11,204.64 L130.81,203.45 L132.52,202.24 L134.23,201.02 L135.93,199.78 L137.64,198.53 L139.34,197.25 L141.05,195.97 L142.76,194.67 L144.46,193.35 L146.17,192.03 L147.88,190.69 L149.58,189.33 L151.29,187.97 L152.99,186.59 L154.70,185.21 L156.41,183.81 L158.11,182.40 L159.82,180.99 L161.53,179.57 L163.23,178.14 L164.94,176.71 L166.65,175.27 L168.35,173.82 L170.06,172.38 L171.76,170.93 L173.47,169.47 L175.18,168.02 L176.88,166.57 L178.59,165.12 L180.30,163.66 L182.00,162.22 L183.71,160.77 L185.41,159.33 L187.12,157.89 L188.83,156.46 L190.53,155.04 L192.24,153.62 L193.95,152.21 L195.65,150.81 L197.36,149.42 L199.06,148.04 L200.77,146.67 L202.48,145.31 L204.18,143.97 L205.89,142.64 L207.60,141.32 L209.30,140.02 L211.01,138.73 L212.71,137.45 L214.42,136.20 L216.13,134.96 L217.83,133.73 L219.54,132.53 L221.25,131.34 L222.95,130.17 L224.66,129.02 L226.36,127.89 L228.07,126.77 L229.78,125.68 L231.48,124.61 L233.19,123.56 L234.90,122.52 L236.60,121.51 L238.31,120.52 L240.02,119.55 L241.72,118.60 L243.43,117.67 L245.13,116.76 L246.84,115.87 L248.55,115.01 L250.25,114.16 L251.96,113.34 L253.67,112.54 L255.37,111.76 L257.08,111.00 L258.78,110.26 L260.49,109.54 L262.20,108.84 L263.90,108.16 L265.61,107.51 L267.32,106.87 L269.02,106.26 L270.73,105.66 L272.43,105.09 L274.14,104.53 L275.85,104.00 L277.55,103.49 L279.26,102.99 L280.97,102.51 L282.67,102.06 L284.38,101.62 L286.08,101.20 L287.79,100.81 L289.50,100.43 L291.20,100.06 L292.91,99.72 L294.62,99.40 L296.32,99.09 L298.03,98.80 L299.73,98.53 L301.44,98.28 L303.15,98.05 L304.85,97.83 L306.56,97.63 L308.27,97.45 L309.97,97.28 L311.68,97.14 L313.38,97.01 L315.09,96.89 L316.80,96.80 L318.50,96.72 L320.21,96.66 L321.92,96.62 L323.62,96.59 L325.33,96.58 L327.04,96.59 L328.74,96.61 L330.45,96.65 L332.15,96.71 L333.86,96.78 L335.57,96.88 L337.27,96.99 L338.98,97.11 L340.69,97.26 L342.39,97.42 L344.10,97.60 L345.80,97.79 L347.51,98.01 L349.22,98.24 L350.92,98.49 L352.63,98.75 L354.34,99.04 L356.04,99.34 L357.75,99.66 L359.45,100.00 L361.16,100.36 L362.87,100.74 L364.57,101.13 L366.28,101.55 L367.99,101.98 L369.69,102.43 L371.40,102.91 L373.10,103.40 L374.81,103.91 L376.52,104.44 L378.22,104.99 L379.93,105.56 L381.64,106.15 L383.34,106.76 L385.05,107.39 L386.75,108.05 L388.46,108.72 L390.17,109.41 L391.87,110.13 L393.58,110.86 L395.29,111.62 L396.99,112.40 L398.70,113.20 L400.41,114.02 L402.11,114.86 L403.82,115.72 L405.52,116.60 L407.23,117.50 L408.94,118.43 L410.64,119.38 L412.35,120.34 L414.06,121.33 L415.76,122.34 L417.47,123.37 L419.17,124.42 L420.88,125.49 L422.59,126.58 L424.29,127.68 L426.00,128.81 L427.71,129.96 L429.41,131.13 L431.12,132.31 L432.82,133.51 L434.53,134.73 L436.24,135.97 L437.94,137.22 L439.65,138.49 L441.36,139.78 L443.06,141.08 L444.77,142.39 L446.47,143.72 L448.18,145.06 L449.89,146.41 L451.59,147.78 L453.30,149.16 L455.01,150.55 L456.71,151.94 L458.42,153.35 L460.12,154.76 L461.83,156.19 L463.54,157.61 L465.24,159.05 L466.95,160.49 L468.66,161.93 L470.36,163.38 L472.07,164.83 L473.77,166.28 L475.48,167.73 L477.19,169.18 L478.89,170.63 L480.60,172.08" fill="none" stroke="#5abb2d" stroke-width="1.2" stroke-dasharray="13.5 12.5"/>
<path d="M72.80,251.18 L74.51,251.11 L76.21,251.03 L77.92,250.95 L79.63,250.87 L81.33,250.79 L83.04,250.70 L84.74,250.61 L86.45,250.51 L88.16,250.42 L89.86,250.32 L91.57,250.21 L93.28,250.11 L94.98,250.00 L96.69,249.88 L98.39,249.77 L100.10,249.64 L101.81,249.52 L103.51,249.39 L105.22,249.25 L106.93,249.12 L108.63,248.97 L110.34,248.83 L112.04,248.67 L113.75,248.52 L115.46,248.36 L117.16,248.19 L118.87,248.02 L120.58,247.84 L122.28,247.65 L123.99,247.46 L125.69,247.27 L127.40,247.07 L129.11,246.86 L130.81,246.64 L132.52,246.42 L134.23,246.19 L135.93,245.95 L137.64,245.71 L139.34,245.46 L141.05,245.20 L142.76,244.93 L144.46,244.66 L146.17,244.38 L147.88,244.08 L149.58,243.78 L151.29,243.47 L152.99,243.15 L154.70,242.82 L156.41,242.48 L158.11,242.13 L159.82,241.77 L161.53,241.40 L163.23,241.02 L164.94,240.63 L166.65,240.22 L168.35,239.81 L170.06,239.38 L171.76,238.94 L173.47,238.49 L175.18,238.02 L176.88,237.54 L178.59,237.05 L180.30,236.55 L182.00,236.03 L183.71,235.49 L185.41,234.94 L187.12,234.38 L188.83,233.80 L190.53,233.21 L192.24,232.60 L193.95,231.98 L195.65,231.34 L197.36,230.68 L199.06,230.01 L200.77,229.32 L202.48,228.61 L204.18,227.89 L205.89,227.15 L207.60,226.39 L209.30,225.62 L211.01,224.82 L212.71,224.01 L214.42,223.18 L216.13,222.33 L217.83,221.47 L219.54,220.58 L221.25,219.68 L222.95,218.76 L224.66,217.82 L226.36,216.86 L228.07,215.88 L229.78,214.88 L231.48,213.87 L233.19,212.84 L234.90,211.78 L236.60,210.72 L238.31,209.63 L240.02,208.52 L241.72,207.40 L243.43,206.26 L245.13,205.10 L246.84,203.93 L248.55,202.74 L250.25,201.54 L251.96,200.32 L253.67,199.08 L255.37,197.83 L257.08,196.57 L258.78,195.29 L260.49,194.00 L262.20,192.70 L263.90,191.38 L265.61,190.06 L267.32,188.72 L269.02,187.38 L270.73,186.03 L272.43,184.66 L274.14,183.30 L275.85,181.92 L277.55,180.54 L279.26,179.16 L280.97,177.77 L282.67,176.38 L284.38,174.99 L286.08,173.60 L287.79,172.21 L289.50,170.82 L291.20,169.43 L292.91,168.04 L294.62,166.66 L296.32,165.29 L298.03,163.92 L299.73,162.56 L301.44,161.21 L303.15,159.87 L304.85,158.54 L306.56,157.22 L308.27,155.91 L309.97,154.62 L311.68,153.34 L313.38,152.08 L315.09,150.83 L316.80,149.60 L318.50,148.40 L320.21,147.21 L321.92,146.04 L323.62,144.89 L325.33,143.77 L327.04,142.66 L328.74,141.59 L330.45,140.53 L332.15,139.51 L333.86,138.51 L335.57,137.53 L337.27,136.59 L338.98,135.67 L340.69,134.78 L342.39,133.93 L344.10,133.10 L345.80,132.30 L347.51,131.53 L349.22,130.80 L350.92,130.10 L352.63,129.43 L354.34,128.80 L356.04,128.19 L357.75,127.63 L359.45,127.09 L361.16,126.60 L362.87,126.13 L364.57,125.70 L366.28,125.31 L367.99,124.96 L369.69,124.64 L371.40,124.35 L373.10,124.10 L374.81,123.89 L376.52,123.72 L378.22,123.58 L379.93,123.48 L381.64,123.41 L383.34,123.39 L385.05,123.40 L386.75,123.44 L388.46,123.53 L390.17,123.65 L391.87,123.81 L393.58,124.00 L395.29,124.23 L396.99,124.50 L398.70,124.80 L400.41,125.14 L402.11,125.52 L403.82,125.93 L405.52,126.37 L407.23,126.86 L408.94,127.37 L410.64,127.92 L412.35,128.51 L414.06,129.13 L415.76,129.78 L417.47,130.47 L419.17,131.19 L420.88,131.94 L422.59,132.72 L424.29,133.53 L426.00,134.38 L427.71,135.25 L429.41,136.15 L431.12,137.09 L432.82,138.05 L434.53,139.03 L436.24,140.05 L437.94,141.09 L439.65,142.15 L441.36,143.24 L443.06,144.36 L444.77,145.49 L446.47,146.65 L448.18,147.83 L449.89,149.03 L451.59,150.25 L453.30,151.48 L455.01,152.73 L456.71,154.00 L458.42,155.29 L460.12,156.59 L461.83,157.90 L463.54,159.23 L465.24,160.56 L466.95,161.91 L468.66,163.26 L470.36,164.63 L472.07,166.00 L473.77,167.37 L475.48,168.75 L477.19,170.14 L478.89,171.53 L480.60,172.92" fill="none" stroke="#5abb2d" stroke-width="1.2" stroke-dasharray="13.5 12.5"/>
<rect x="70.20" y="189.66" width="5.6" height="5.6" fill="none" stroke="#39359a" stroke-width="1.3"/>
<rect x="110.60" y="168.41" width="5.6" height="5.6" fill="none" stroke="#39359a" stroke-width="1.3"/>
<rect x="151.90" y="153.12" width="5.6" height="5.6" fill="none" stroke="#39359a" stroke-width="1.3"/>
<rect x="193.70" y="144.96" width="5.6" height="5.6" fill="none" stroke="#39359a" stroke-width="1.3"/>
<rect x="235.00" y="142.48" width="5.6" height="5.6" fill="none" stroke="#39359a" stroke-width="1.3"/>
<rect x="275.90" y="144.62" width="5.6" height="5.6" fill="none" stroke="#39359a" stroke-width="1.3"/>
<rect x="317.00" y="152.15" width="5.6" height="5.6" fill="none" stroke="#39359a" stroke-width="1.3"/>
<rect x="358.20" y="166.70" width="5.6" height="5.6" fill="none" stroke="#39359a" stroke-width="1.3"/>
<rect x="399.40" y="187.88" width="5.6" height="5.6" fill="none" stroke="#39359a" stroke-width="1.3"/>
<rect x="440.90" y="210.74" width="5.6" height="5.6" fill="none" stroke="#39359a" stroke-width="1.3"/>
<circle cx="73.00" cy="241.99" r="3.05" fill="none" stroke="#39359a" stroke-width="1.3"/>
<circle cx="113.40" cy="230.55" r="3.05" fill="none" stroke="#39359a" stroke-width="1.3"/>
<circle cx="154.70" cy="211.97" r="3.05" fill="none" stroke="#39359a" stroke-width="1.3"/>
<circle cx="196.50" cy="188.98" r="3.05" fill="none" stroke="#39359a" stroke-width="1.3"/>
<circle cx="237.80" cy="169.53" r="3.05" fill="none" stroke="#39359a" stroke-width="1.3"/>
<circle cx="278.70" cy="159.30" r="3.05" fill="none" stroke="#39359a" stroke-width="1.3"/>
<circle cx="319.80" cy="159.82" r="3.05" fill="none" stroke="#39359a" stroke-width="1.3"/>
<circle cx="361.00" cy="171.12" r="3.05" fill="none" stroke="#39359a" stroke-width="1.3"/>
<circle cx="402.20" cy="191.08" r="3.05" fill="none" stroke="#39359a" stroke-width="1.3"/>
<circle cx="443.70" cy="213.62" r="3.05" fill="none" stroke="#39359a" stroke-width="1.3"/>
<path d="M73.00,248.36 l3.1,4 l-3.1,4 l-3.1,-4 z" fill="none" stroke="#39359a" stroke-width="1.3"/>
<path d="M113.40,246.86 l3.1,4 l-3.1,4 l-3.1,-4 z" fill="none" stroke="#39359a" stroke-width="1.3"/>
<path d="M154.70,243.50 l3.1,4 l-3.1,4 l-3.1,-4 z" fill="none" stroke="#39359a" stroke-width="1.3"/>
<path d="M196.50,236.47 l3.1,4 l-3.1,4 l-3.1,-4 z" fill="none" stroke="#39359a" stroke-width="1.3"/>
<path d="M237.80,223.70 l3.1,4 l-3.1,4 l-3.1,-4 z" fill="none" stroke="#39359a" stroke-width="1.3"/>
<path d="M278.70,205.13 l3.1,4 l-3.1,4 l-3.1,-4 z" fill="none" stroke="#39359a" stroke-width="1.3"/>
<path d="M319.80,186.82 l3.1,4 l-3.1,4 l-3.1,-4 z" fill="none" stroke="#39359a" stroke-width="1.3"/>
<path d="M361.00,180.41 l3.1,4 l-3.1,4 l-3.1,-4 z" fill="none" stroke="#39359a" stroke-width="1.3"/>
<path d="M402.20,190.86 l3.1,4 l-3.1,4 l-3.1,-4 z" fill="none" stroke="#39359a" stroke-width="1.3"/>
<path d="M443.70,210.32 l3.1,4 l-3.1,4 l-3.1,-4 z" fill="none" stroke="#39359a" stroke-width="1.3"/>
<rect x="70.20" y="152.91" width="5.6" height="5.6" fill="none" stroke="#5abb2d" stroke-width="1.3"/>
<rect x="110.60" y="122.12" width="5.6" height="5.6" fill="none" stroke="#5abb2d" stroke-width="1.3"/>
<rect x="151.90" y="100.62" width="5.6" height="5.6" fill="none" stroke="#5abb2d" stroke-width="1.3"/>
<rect x="193.70" y="88.82" width="5.6" height="5.6" fill="none" stroke="#5abb2d" stroke-width="1.3"/>
<rect x="235.00" y="83.77" width="5.6" height="5.6" fill="none" stroke="#5abb2d" stroke-width="1.3"/>
<rect x="275.90" y="82.98" width="5.6" height="5.6" fill="none" stroke="#5abb2d" stroke-width="1.3"/>
<rect x="317.00" y="85.97" width="5.6" height="5.6" fill="none" stroke="#5abb2d" stroke-width="1.3"/>
<rect x="358.20" y="94.28" width="5.6" height="5.6" fill="none" stroke="#5abb2d" stroke-width="1.3"/>
<rect x="399.40" y="110.94" width="5.6" height="5.6" fill="none" stroke="#5abb2d" stroke-width="1.3"/>
<rect x="440.90" y="138.43" width="5.6" height="5.6" fill="none" stroke="#5abb2d" stroke-width="1.3"/>
<circle cx="73.00" cy="233.56" r="3.05" fill="none" stroke="#5abb2d" stroke-width="1.3"/>
<circle cx="113.40" cy="214.74" r="3.05" fill="none" stroke="#5abb2d" stroke-width="1.3"/>
<circle cx="154.70" cy="185.21" r="3.05" fill="none" stroke="#5abb2d" stroke-width="1.3"/>
<circle cx="196.50" cy="150.12" r="3.05" fill="none" stroke="#5abb2d" stroke-width="1.3"/>
<circle cx="237.80" cy="120.81" r="3.05" fill="none" stroke="#5abb2d" stroke-width="1.3"/>
<circle cx="278.70" cy="103.15" r="3.05" fill="none" stroke="#5abb2d" stroke-width="1.3"/>
<circle cx="319.80" cy="96.67" r="3.05" fill="none" stroke="#5abb2d" stroke-width="1.3"/>
<circle cx="361.00" cy="100.33" r="3.05" fill="none" stroke="#5abb2d" stroke-width="1.3"/>
<circle cx="402.20" cy="114.90" r="3.05" fill="none" stroke="#5abb2d" stroke-width="1.3"/>
<circle cx="443.70" cy="141.57" r="3.05" fill="none" stroke="#5abb2d" stroke-width="1.3"/>
<path d="M73.00,247.17 l3.1,4 l-3.1,4 l-3.1,-4 z" fill="none" stroke="#5abb2d" stroke-width="1.3"/>
<path d="M113.40,244.55 l3.1,4 l-3.1,4 l-3.1,-4 z" fill="none" stroke="#5abb2d" stroke-width="1.3"/>
<path d="M154.70,238.82 l3.1,4 l-3.1,4 l-3.1,-4 z" fill="none" stroke="#5abb2d" stroke-width="1.3"/>
<path d="M196.50,227.02 l3.1,4 l-3.1,4 l-3.1,-4 z" fill="none" stroke="#5abb2d" stroke-width="1.3"/>
<path d="M237.80,205.95 l3.1,4 l-3.1,4 l-3.1,-4 z" fill="none" stroke="#5abb2d" stroke-width="1.3"/>
<path d="M278.70,175.61 l3.1,4 l-3.1,4 l-3.1,-4 z" fill="none" stroke="#5abb2d" stroke-width="1.3"/>
<path d="M319.80,143.49 l3.1,4 l-3.1,4 l-3.1,-4 z" fill="none" stroke="#5abb2d" stroke-width="1.3"/>
<path d="M361.00,122.64 l3.1,4 l-3.1,4 l-3.1,-4 z" fill="none" stroke="#5abb2d" stroke-width="1.3"/>
<path d="M402.20,121.54 l3.1,4 l-3.1,4 l-3.1,-4 z" fill="none" stroke="#5abb2d" stroke-width="1.3"/>
<path d="M443.70,140.78 l3.1,4 l-3.1,4 l-3.1,-4 z" fill="none" stroke="#5abb2d" stroke-width="1.3"/>
</g>
<!-- axes box -->
<rect x="72.8" y="22.0" width="407.8" height="231.3" fill="none" stroke="#000" stroke-width="1.6"/>
<g stroke="#000" stroke-width="1.3" fill="none">
<path d="M72.8,195.48 h4.5 M480.6,195.48 h-4.5"/>
<path d="M72.8,137.65 h4.5 M480.6,137.65 h-4.5"/>
<path d="M72.8,79.82 h4.5 M480.6,79.82 h-4.5"/>
<path d="M131.06,253.3 v-4.5"/>
<path d="M247.57,253.3 v-4.5"/>
<path d="M364.09,253.3 v-4.5 M364.09,22.0 v4.5"/>
</g>
<g class="tick">
<text x="66.2" y="259.20" text-anchor="end">0</text>
<text x="66.2" y="201.78" text-anchor="end">0.25</text>
<text x="66.2" y="143.55" text-anchor="end">0.5</text>
<text x="66.2" y="86.02" text-anchor="end">0.75</text>
<text x="66.2" y="29.90" text-anchor="end">1</text>
<text x="118.16" y="280">10<tspan dy="-12.6" font-size="11.3">−2</tspan></text>
<text x="234.67" y="280">10<tspan dy="-12.6" font-size="11.3">0</tspan></text>
<text x="351.19" y="280">10<tspan dy="-12.6" font-size="11.3">2</tspan></text>
</g>
<text class="lab" x="277.8" y="311" text-anchor="middle" style="font-size:19.9px">Photocurrent (A/cm<tspan dy="-9.4" font-size="15.6">2</tspan><tspan dy="9.4">)</tspan></text>
<text class="lab" transform="translate(16.0,144.3) rotate(-90)" text-anchor="middle">External efficiency</text>
<!-- legend -->
<g class="leg">
<path d="M77,41.4 H107.2" stroke="#39359a" stroke-width="1" fill="none"/>
<path d="M77,59 H107.2" stroke="#5abb2d" stroke-width="1.1" stroke-dasharray="9 8.3" fill="none"/>
<text x="110" y="45.5">ξ=0.15, α=0.3</text>
<text x="110" y="63.5">ξ=0.45, α=0.6</text>
<path d="M196.8,40.3 H225.2" stroke="#333" stroke-width="0.85" stroke-dasharray="2 2.5" fill="none"/>
<rect x="211" y="55.4" width="5.2" height="5.2" fill="none" stroke="#222" stroke-width="1.05"/>
<text x="231.6" y="45" style="letter-spacing:0.5px">Doped</text>
<text x="232.4" y="63.8">A=10<tspan dy="-5.5" font-size="8.6">6</tspan><tspan dy="5.5">/s</tspan></text>
<circle cx="288" cy="41.2" r="3.1" fill="none" stroke="#222" stroke-width="1.05"/>
<path d="M288,54.4 l3.1,3.9 l-3.1,3.9 l-3.1,-3.9 z" fill="none" stroke="#222" stroke-width="1.05"/>
<text x="300.6" y="45">A=10<tspan dy="-5.5" font-size="8.6">7</tspan><tspan dy="5.5">/s</tspan></text>
<text x="300.6" y="63.9">A=10<tspan dy="-5.5" font-size="8.6">8</tspan><tspan dy="5.5">/s</tspan></text>
</g>
<!-- inset -->
<g class="inset">
<rect x="352" y="0.6" width="147.4" height="95.8" fill="#fff" fill-opacity="0.77" stroke="#333" stroke-width="1.3"/>
<g fill="none" stroke="#333" stroke-width="1.25">
<circle cx="421.4" cy="55.7" r="37.6"/>
<path d="M353,37 H419 V81.2 H353"/>
<path d="M374.5,33.8 L379,37 L374.5,40.2"/>
<path d="M412.5,62.5 H425.5 L419,68.3 Z M412.5,68.3 H425.5"/>
<path d="M453.8,34.6 L464,26.5 H482.5"/>
<path d="M471,22.3 L476,26.5 L471,30.7"/>
<path d="M428.70,58.70 L427.85,56.33 L432.52,58.22 L430.83,53.48 L435.50,55.37 L433.80,50.63 L438.47,52.52 L436.78,47.78 L441.45,49.67 L440.60,47.30" stroke-width="1.5" stroke-linejoin="round"/>
</g>
<path d="M446.00,41.40 L439.99,44.52 L442.62,47.27 Z" fill="#222" stroke="none"/>
<text x="400.7" y="14">Integrating</text>
<text x="401.2" y="30.1">sphere</text>
<text x="380.5" y="36">J</text>
<text x="473.3" y="23">P</text>
</g>
</svg>
</body>
</html>
